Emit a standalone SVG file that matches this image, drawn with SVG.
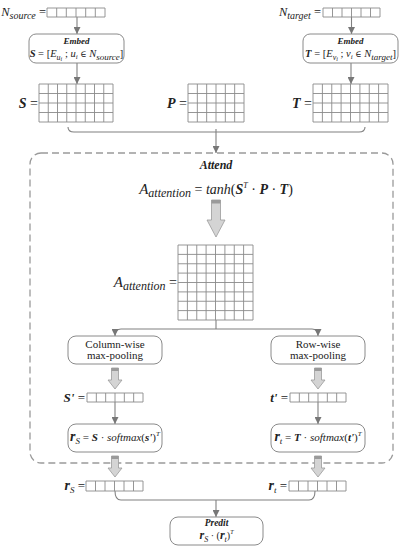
<svg xmlns="http://www.w3.org/2000/svg" width="404" height="550" viewBox="0 0 404 550">
<defs>
<style>
text{font-family:"Liberation Serif","Times New Roman",serif;fill:#222;}
.i{font-style:italic;}
.b{font-weight:bold;font-style:italic;}
.el{font-family:"DejaVu Serif",serif;font-size:8.5px;}
.grid{fill:#fff;stroke:#8a8a8a;stroke-width:0.9;}
.box{fill:#fff;stroke:#8a8a8a;stroke-width:1;}
.ln{fill:none;stroke:#808080;stroke-width:1.1;}
.thick{fill:#d4d4d4;stroke:#9a9a9a;stroke-width:0.8;}
.band{fill:#9a9a9a;}
.dash{fill:none;stroke:#9a9a9a;stroke-width:1.3;stroke-dasharray:7,4;}
</style>
<marker id="ah" viewBox="0 0 10 10" refX="10" refY="5" markerWidth="7" markerHeight="7" markerUnits="userSpaceOnUse" orient="auto">
<path d="M0,0 L10,5 L0,10 Z" fill="#777"/>
</marker>
</defs>
<rect width="404" height="550" fill="#fff"/>

<!-- attend container -->
<g id="attend">
<rect class="dash" x="30" y="153" width="363" height="310" rx="11"/>
<text x="216" y="169" text-anchor="middle" font-size="12" class="b">Attend</text>
<text x="216" y="194" text-anchor="middle" font-size="14"><tspan class="i" font-size="15">A</tspan><tspan class="i" font-size="12" dy="3">attention</tspan><tspan dy="-3"> = </tspan><tspan class="i">tanh</tspan>(<tspan class="b">S</tspan><tspan class="i" font-size="8" dy="-6">T</tspan><tspan dy="6"> · </tspan><tspan class="b">P</tspan> · <tspan class="b">T</tspan>)</text>
</g>

<g id="connectors">
<path class="ln" d="M77,17 V34" marker-end="url(#ah)"/>
<path class="ln" d="M77,63 V84" marker-end="url(#ah)"/>
<path class="ln" d="M351.5,17 V34" marker-end="url(#ah)"/>
<path class="ln" d="M351,63 V84" marker-end="url(#ah)"/>
<path class="ln" d="M68,127 Q68,132 74,132 H359 Q365,132 365,127"/>
<path class="ln" d="M216,129 V132"/>
<path class="ln" d="M216,132 V153" marker-end="url(#ah)"/>
<path class="thick" d="M211.5,200 H220.5 V220 H225 L216,237 L207,220 H211.5 Z"/>
<rect class="band" x="211.5" y="200" width="9" height="3.5"/>
<path class="ln" d="M216,320 V329"/>
<path class="ln" d="M121,329 H312 Q318,329 318,336" marker-end="url(#ah)"/>
<path class="ln" d="M121,329 Q115,329 115,336" marker-end="url(#ah)"/>
<path class="thick" d="M111.5,368 H118.5 V380 H122 L115,389 L108,380 H111.5 Z"/>
<rect class="band" x="111.5" y="368" width="7" height="3"/>
<path class="thick" d="M314.5,368 H321.5 V380 H325 L318,389 L311,380 H314.5 Z"/>
<rect class="band" x="314.5" y="368" width="7" height="3"/>
<path class="ln" d="M115,402 V424" marker-end="url(#ah)"/>
<path class="ln" d="M318,402 V424" marker-end="url(#ah)"/>
<path class="thick" d="M111.5,456 H118.5 V468 H122 L115,477 L108,468 H111.5 Z"/>
<rect class="band" x="111.5" y="456" width="7" height="3"/>
<path class="thick" d="M314.5,456 H321.5 V468 H325 L318,477 L311,468 H314.5 Z"/>
<rect class="band" x="314.5" y="456" width="7" height="3"/>
<path class="ln" d="M115,491 Q115,500 121,500 H309 Q315,500 315,491"/>
<path class="ln" d="M216,500 V517" marker-end="url(#ah)"/>
</g>

<g id="n-source">
<text x="46" y="16" text-anchor="end" font-size="12.5"><tspan class="i">N</tspan><tspan class="i" font-size="10" dy="3">source</tspan><tspan dy="-3"> =</tspan></text>
<path class="grid" d="M47,8 H105 V17 H47 Z M56.7,8 V17 M66.3,8 V17 M76,8 V17 M85.7,8 V17 M95.3,8 V17"/>
</g>

<g id="n-target">
<text x="321" y="16" text-anchor="end" font-size="12.5"><tspan class="i">N</tspan><tspan class="i" font-size="10" dy="3">target</tspan><tspan dy="-3"> =</tspan></text>
<path class="grid" d="M323,8 H380 V17 H323 Z M332.5,8 V17 M342,8 V17 M351.5,8 V17 M361,8 V17 M370.5,8 V17"/>
</g>

<g id="embed-source">
<rect class="box" x="29" y="34" width="95" height="29" rx="7"/>
<text x="76.5" y="44" text-anchor="middle" font-size="9" class="b">Embed</text>
<text x="76.5" y="57" text-anchor="middle" font-size="10.5"><tspan class="b">S</tspan> = [<tspan class="i">E</tspan><tspan class="i" font-size="8" dy="2.5">u</tspan><tspan class="i" font-size="6" dy="1.5">i</tspan><tspan dy="-4"> ; </tspan><tspan class="i">u</tspan><tspan class="i" font-size="7" dy="2">i</tspan><tspan dy="-2"> </tspan><tspan class="el">∈</tspan> <tspan class="i">N</tspan><tspan class="i" font-size="9" dy="2.5">source</tspan><tspan dy="-2.5">]</tspan></text>
</g>

<g id="embed-target">
<rect class="box" x="303" y="34" width="95" height="29" rx="7"/>
<text x="350.5" y="44" text-anchor="middle" font-size="9" class="b">Embed</text>
<text x="350.5" y="57" text-anchor="middle" font-size="10.5"><tspan class="b">T</tspan> = [<tspan class="i">E</tspan><tspan class="i" font-size="8" dy="2.5">v</tspan><tspan class="i" font-size="6" dy="1.5">i</tspan><tspan dy="-4"> ; </tspan><tspan class="i">v</tspan><tspan class="i" font-size="7" dy="2">i</tspan><tspan dy="-2"> </tspan><tspan class="el">∈</tspan> <tspan class="i">N</tspan><tspan class="i" font-size="9" dy="2.5">target</tspan><tspan dy="-2.5">]</tspan></text>
</g>

<g id="matrix-s">
<text x="38" y="108" text-anchor="end" font-size="14"><tspan class="b">S</tspan> =</text>
<path class="grid" d="M39,84 H113 V122 H39 Z M48.25,84 V122 M57.5,84 V122 M66.75,84 V122 M76,84 V122 M85.25,84 V122 M94.5,84 V122 M103.75,84 V122 M39,93.5 H113 M39,103 H113 M39,112.5 H113"/>
</g>

<g id="matrix-p">
<text x="187" y="108" text-anchor="end" font-size="14"><tspan class="b">P</tspan> =</text>
<path class="grid" d="M188,84 H244 V122 H188 Z M197.33,84 V122 M206.67,84 V122 M216,84 V122 M225.33,84 V122 M234.67,84 V122 M188,93.5 H244 M188,103 H244 M188,112.5 H244"/>
</g>

<g id="matrix-t">
<text x="312" y="108" text-anchor="end" font-size="14"><tspan class="b">T</tspan> =</text>
<path class="grid" d="M313,84 H388 V122 H313 Z M322.4,84 V122 M331.75,84 V122 M341.1,84 V122 M350.5,84 V122 M359.9,84 V122 M369.25,84 V122 M378.6,84 V122 M313,93.5 H388 M313,103 H388 M313,112.5 H388"/>
</g>

<g id="matrix-a">
<text x="177" y="287" text-anchor="end" font-size="14"><tspan class="i" font-size="15">A</tspan><tspan class="i" font-size="12" dy="3">attention</tspan><tspan dy="-3"> =</tspan></text>
<path class="grid" d="M178,245 H253 V320 H178 Z M187.4,245 V320 M196.75,245 V320 M206.1,245 V320 M215.5,245 V320 M224.9,245 V320 M234.25,245 V320 M243.6,245 V320 M178,254.4 H253 M178,263.75 H253 M178,273.1 H253 M178,282.5 H253 M178,291.9 H253 M178,301.25 H253 M178,310.6 H253"/>
</g>

<g id="col-pool">
<rect class="box" x="68" y="336" width="94" height="28" rx="8"/>
<text x="115" y="347.5" text-anchor="middle" font-size="11">Column-wise</text>
<text x="115" y="358.5" text-anchor="middle" font-size="11">max-pooling</text>
</g>

<g id="row-pool">
<rect class="box" x="271" y="336" width="94" height="28" rx="8"/>
<text x="318" y="347.5" text-anchor="middle" font-size="11">Row-wise</text>
<text x="318" y="358.5" text-anchor="middle" font-size="11">max-pooling</text>
</g>

<g id="s-prime">
<text x="85" y="402" text-anchor="end" font-size="13"><tspan class="b">S'</tspan> =</text>
<path class="grid" d="M87,393 H143 V402 H87 Z M96.33,393 V402 M105.67,393 V402 M115,393 V402 M124.33,393 V402 M133.67,393 V402"/>
</g>

<g id="t-prime">
<text x="288" y="402" text-anchor="end" font-size="13"><tspan class="b">t'</tspan> =</text>
<path class="grid" d="M290,393 H346 V402 H290 Z M299.33,393 V402 M308.67,393 V402 M318,393 V402 M327.33,393 V402 M336.67,393 V402"/>
</g>

<g id="rs-box">
<rect class="box" x="68" y="424" width="94" height="28" rx="8"/>
<text x="115" y="441" text-anchor="middle" font-size="11"><tspan class="b" font-size="14">r</tspan><tspan class="i" font-size="9" dy="3">S</tspan><tspan dy="-3"> = </tspan><tspan class="b">S</tspan> · <tspan class="i">softmax</tspan>(<tspan class="b">s'</tspan>)<tspan class="i" font-size="7" dy="-5">T</tspan></text>
</g>

<g id="rt-box">
<rect class="box" x="271" y="424" width="94" height="28" rx="8"/>
<text x="318" y="441" text-anchor="middle" font-size="11"><tspan class="b" font-size="14">r</tspan><tspan class="i" font-size="9" dy="3">t</tspan><tspan dy="-3"> = </tspan><tspan class="b">T</tspan> · <tspan class="i">softmax</tspan>(<tspan class="b">t'</tspan>)<tspan class="i" font-size="7" dy="-5">T</tspan></text>
</g>

<g id="rs-vec">
<text x="85" y="490" text-anchor="end" font-size="13"><tspan class="b" font-size="14">r</tspan><tspan class="i" font-size="9" dy="3">S</tspan><tspan dy="-3"> =</tspan></text>
<path class="grid" d="M86,481 H143 V491 H86 Z M95.5,481 V491 M105,481 V491 M114.5,481 V491 M124,481 V491 M133.5,481 V491"/>
</g>

<g id="rt-vec">
<text x="287" y="490" text-anchor="end" font-size="13"><tspan class="b" font-size="14">r</tspan><tspan class="i" font-size="9" dy="3">t</tspan><tspan dy="-3"> =</tspan></text>
<path class="grid" d="M289,481 H346 V491 H289 Z M298.5,481 V491 M308,481 V491 M317.5,481 V491 M327,481 V491 M336.5,481 V491"/>
</g>

<g id="predit">
<rect class="box" x="170" y="517" width="93" height="28" rx="8"/>
<text x="216.5" y="526" text-anchor="middle" font-size="9.5" class="b">Predit</text>
<text x="216.5" y="539" text-anchor="middle" font-size="10"><tspan class="b" font-size="12">r</tspan><tspan class="i" font-size="8" dy="2.5">S</tspan><tspan dy="-2.5"> · (</tspan><tspan class="b" font-size="12">r</tspan><tspan class="i" font-size="8" dy="2.5">t</tspan><tspan dy="-2.5">)</tspan><tspan class="i" font-size="6" dy="-5">T</tspan></text>
</g>
</svg>
